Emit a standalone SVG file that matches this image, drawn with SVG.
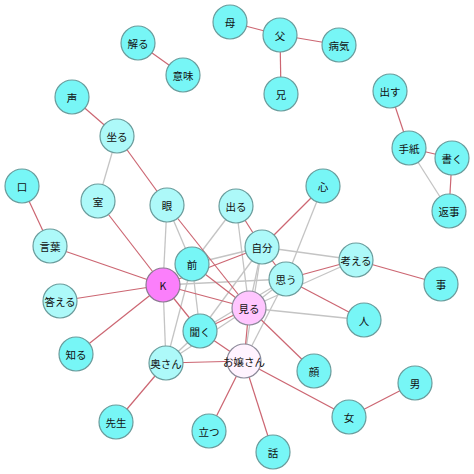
<svg xmlns="http://www.w3.org/2000/svg" width="474" height="474" viewBox="0 0 474 474">
<style>
.r{stroke:#cc6672;stroke-width:1.2;fill:none}
.g{stroke:#c4c4c4;stroke-width:1.3;fill:none}
circle{stroke:#6a9c9c;stroke-width:1.2}
.a circle{fill:#77f6f6}
.b circle{fill:#adf9f9}
.k circle{fill:#fb7ffb;stroke:#8c7a92}
.m circle{fill:#ffc6ff;stroke:#8c8a9a}
.o circle{fill:#fff3ff;stroke:#8c8a9a}
text{font-family:"Noto Sans CJK JP","Noto Sans",sans-serif;font-size:10.5px;fill:#111;text-anchor:middle;dominant-baseline:central}
</style>
<rect width="474" height="474" fill="#fff"/>
<g id="edges">
<line class="g" x1="409" y1="148" x2="449" y2="211"/>
<line class="g" x1="117" y1="136" x2="98" y2="201"/>
<line class="g" x1="167" y1="205" x2="163" y2="285"/>
<line class="g" x1="167" y1="205" x2="192" y2="264"/>
<line class="g" x1="236" y1="206" x2="192" y2="264"/>
<line class="g" x1="236" y1="206" x2="249" y2="308"/>
<line class="g" x1="323" y1="186" x2="286" y2="279"/>
<line class="g" x1="262" y1="247" x2="356" y2="260"/>
<line class="g" x1="163" y1="285" x2="286" y2="279"/>
<line class="g" x1="249" y1="308" x2="356" y2="260"/>
<line class="g" x1="249" y1="308" x2="364" y2="320"/>
<line class="g" x1="163" y1="285" x2="166" y2="363"/>
<line class="g" x1="192" y1="264" x2="200" y2="331"/>
<line class="g" x1="166" y1="363" x2="200" y2="331"/>
<line class="g" x1="166" y1="363" x2="249" y2="308"/>
<line class="g" x1="262" y1="247" x2="249" y2="308"/>
<line class="g" x1="262" y1="247" x2="244" y2="361"/>
<line class="g" x1="286" y1="279" x2="244" y2="361"/>
<line class="g" x1="249" y1="308" x2="286" y2="279"/>
<line class="g" x1="192" y1="264" x2="262" y2="247"/>
<line class="g" x1="192" y1="264" x2="166" y2="363"/>
<line class="g" x1="200" y1="331" x2="262" y2="247"/>
<line class="g" x1="200" y1="331" x2="286" y2="279"/>
<line class="r" x1="138" y1="43" x2="183" y2="75"/>
<line class="r" x1="230" y1="22" x2="280" y2="35"/>
<line class="r" x1="280" y1="35" x2="339" y2="45"/>
<line class="r" x1="280" y1="35" x2="281" y2="94"/>
<line class="r" x1="390" y1="91" x2="409" y2="148"/>
<line class="r" x1="409" y1="148" x2="452" y2="158"/>
<line class="r" x1="452" y1="158" x2="449" y2="211"/>
<line class="r" x1="415" y1="383" x2="349" y2="417"/>
<line class="r" x1="72" y1="97" x2="117" y2="136"/>
<line class="r" x1="117" y1="136" x2="167" y2="205"/>
<line class="r" x1="22" y1="186" x2="50" y2="246"/>
<line class="r" x1="98" y1="201" x2="163" y2="285"/>
<line class="r" x1="50" y1="246" x2="163" y2="285"/>
<line class="r" x1="60" y1="301" x2="163" y2="285"/>
<line class="r" x1="76" y1="354" x2="163" y2="285"/>
<line class="r" x1="163" y1="285" x2="249" y2="308"/>
<line class="r" x1="163" y1="285" x2="200" y2="331"/>
<line class="r" x1="163" y1="285" x2="262" y2="247"/>
<line class="r" x1="167" y1="205" x2="249" y2="308"/>
<line class="r" x1="236" y1="206" x2="262" y2="247"/>
<line class="r" x1="323" y1="186" x2="262" y2="247"/>
<line class="r" x1="262" y1="247" x2="286" y2="279"/>
<line class="r" x1="286" y1="279" x2="356" y2="260"/>
<line class="r" x1="356" y1="260" x2="441" y2="284"/>
<line class="r" x1="286" y1="279" x2="364" y2="320"/>
<line class="r" x1="249" y1="308" x2="314" y2="371"/>
<line class="r" x1="244" y1="361" x2="349" y2="417"/>
<line class="r" x1="244" y1="361" x2="273" y2="452"/>
<line class="r" x1="244" y1="361" x2="209" y2="431"/>
<line class="r" x1="166" y1="363" x2="116" y2="422"/>
<line class="r" x1="166" y1="363" x2="244" y2="361"/>
<line class="r" x1="200" y1="331" x2="249" y2="308"/>
<line class="r" x1="249" y1="308" x2="244" y2="361"/>
<line class="r" x1="192" y1="264" x2="249" y2="308"/>
<line class="r" x1="200" y1="331" x2="244" y2="361"/>
</g>
<g id="n-wakaru" class="a"><circle cx="138" cy="43" r="17"/><text x="138" y="43">解る</text></g>
<g id="n-imi" class="a"><circle cx="183" cy="75" r="17"/><text x="183" y="75">意味</text></g>
<g id="n-haha" class="a"><circle cx="230" cy="22" r="17"/><text x="230" y="22">母</text></g>
<g id="n-chichi" class="a"><circle cx="280" cy="35" r="17"/><text x="280" y="35">父</text></g>
<g id="n-byouki" class="a"><circle cx="339" cy="45" r="17"/><text x="339" y="45">病気</text></g>
<g id="n-ani" class="a"><circle cx="281" cy="94" r="17"/><text x="281" y="94">兄</text></g>
<g id="n-dasu" class="a"><circle cx="390" cy="91" r="17"/><text x="390" y="91">出す</text></g>
<g id="n-tegami" class="a"><circle cx="409" cy="148" r="17"/><text x="409" y="148">手紙</text></g>
<g id="n-kaku" class="a"><circle cx="452" cy="158" r="17"/><text x="452" y="158">書く</text></g>
<g id="n-henji" class="a"><circle cx="449" cy="211" r="17"/><text x="449" y="211">返事</text></g>
<g id="n-koe" class="a"><circle cx="72" cy="97" r="17"/><text x="72" y="97">声</text></g>
<g id="n-suwaru" class="b"><circle cx="117" cy="136" r="17"/><text x="117" y="136">坐る</text></g>
<g id="n-kuchi" class="a"><circle cx="22" cy="186" r="17"/><text x="22" y="186">口</text></g>
<g id="n-shitsu" class="b"><circle cx="98" cy="201" r="17"/><text x="98" y="201">室</text></g>
<g id="n-me" class="b"><circle cx="167" cy="205" r="17"/><text x="167" y="205">眼</text></g>
<g id="n-deru" class="b"><circle cx="236" cy="206" r="17"/><text x="236" y="206">出る</text></g>
<g id="n-kokoro" class="a"><circle cx="323" cy="186" r="17"/><text x="323" y="186">心</text></g>
<g id="n-kotoba" class="b"><circle cx="50" cy="246" r="17"/><text x="50" y="246">言葉</text></g>
<g id="n-jibun" class="b"><circle cx="262" cy="247" r="17"/><text x="262" y="247">自分</text></g>
<g id="n-kangaeru" class="b"><circle cx="356" cy="260" r="17"/><text x="356" y="260">考える</text></g>
<g id="n-mae" class="a"><circle cx="192" cy="264" r="17"/><text x="192" y="264">前</text></g>
<g id="n-omou" class="b"><circle cx="286" cy="279" r="17"/><text x="286" y="279">思う</text></g>
<g id="n-koto" class="a"><circle cx="441" cy="284" r="17"/><text x="441" y="284">事</text></g>
<g id="n-K" class="k"><circle cx="163" cy="285" r="17"/><text x="163" y="285">K</text></g>
<g id="n-kotaeru" class="b"><circle cx="60" cy="301" r="17"/><text x="60" y="301">答える</text></g>
<g id="n-miru" class="m"><circle cx="249" cy="308" r="17"/><text x="249" y="308">見る</text></g>
<g id="n-hito" class="a"><circle cx="364" cy="320" r="17"/><text x="364" y="320">人</text></g>
<g id="n-kiku" class="a"><circle cx="200" cy="331" r="17"/><text x="200" y="331">聞く</text></g>
<g id="n-shiru" class="a"><circle cx="76" cy="354" r="17"/><text x="76" y="354">知る</text></g>
<g id="n-okusan" class="b"><circle cx="166" cy="363" r="17"/><text x="166" y="363">奥さん</text></g>
<g id="n-ojousan" class="o"><circle cx="244" cy="361" r="17"/><text x="244" y="361">お嬢さん</text></g>
<g id="n-kao" class="a"><circle cx="314" cy="371" r="17"/><text x="314" y="371">顔</text></g>
<g id="n-otoko" class="a"><circle cx="415" cy="383" r="17"/><text x="415" y="383">男</text></g>
<g id="n-onna" class="a"><circle cx="349" cy="417" r="17"/><text x="349" y="417">女</text></g>
<g id="n-sensei" class="a"><circle cx="116" cy="422" r="17"/><text x="116" y="422">先生</text></g>
<g id="n-tatsu" class="a"><circle cx="209" cy="431" r="17"/><text x="209" y="431">立つ</text></g>
<g id="n-hanashi" class="a"><circle cx="273" cy="452" r="17"/><text x="273" y="452">話</text></g>
</svg>
